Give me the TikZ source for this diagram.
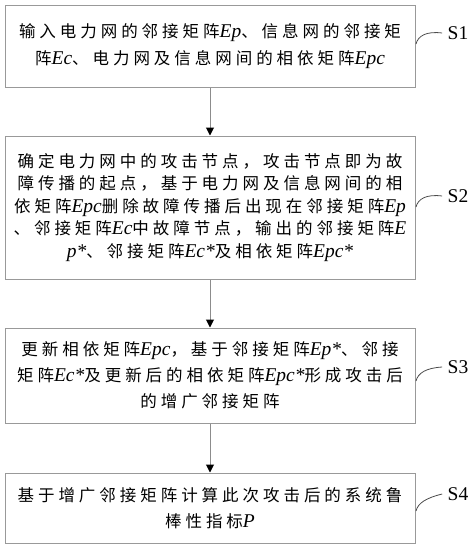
\documentclass[tikz,border=0pt]{standalone}
\usepackage{fontspec}
\setmainfont{Noto Sans CJK SC}[LetterSpace=24]
\newfontfamily\tnr{Liberation Serif}[Scale=1.18]
\newcommand\mx[1]{{\tnr\itshape #1}}
\usetikzlibrary{arrows.meta}
\begin{document}
\begin{tikzpicture}[x=1pt,y=1pt]
	\tikzset{stepbox/.style={draw=black!40, line width=1pt, minimum width=410pt,
				inner sep=0pt, align=center, font=\fontsize{16.5}{27}\selectfont}}
	\tikzset{flow/.style={draw=black!45, line width=1pt,
				-{Triangle[length=8pt, width=8pt, fill=black, color=black]}}}
	\tikzset{tag/.style={font=\fontsize{16.5}{17}\selectfont\tnr}}
	\tikzset{hook/.style={draw=black!70, line width=0.8pt}}

	\useasboundingbox (0,0) rectangle (474,-550);

	\node[stepbox, minimum height=82pt] (s1) at (210,-46)
		{输入电力网的邻接矩阵\mx{Ep}、信息网的邻接矩\\
		 阵\mx{Ec}、电力网及信息网间的相依矩阵\mx{Epc}};
	\node[stepbox, minimum height=143pt, font=\fontsize{16.5}{22.5}\selectfont] (s2) at (210,-207.5)
		{确定电力网中的攻击节点，攻击节点即为故\\
		 障传播的起点，基于电力网及信息网间的相\\
		 依矩阵\mx{Epc}删除故障传播后出现在邻接矩阵\mx{Ep}\\
		 、邻接矩阵\mx{Ec}中故障节点，输出的邻接矩阵\mx{E}\\
		 \mx{p*}、邻接矩阵\mx{Ec*}及相依矩阵\mx{Epc*}};
	\node[stepbox, minimum height=95pt, font=\fontsize{16.5}{26}\selectfont] (s3) at (210,-375.5)
		{更新相依矩阵\mx{Epc}，基于邻接矩阵\mx{Ep*}、邻接\\
		 矩阵\mx{Ec*}及更新后的相依矩阵\mx{Epc*}形成攻击后\\
		 的增广邻接矩阵};
	\node[stepbox, minimum height=70pt, font=\fontsize{16.5}{26}\selectfont] (s4) at (210,-508)
		{基于增广邻接矩阵计算此次攻击后的系统鲁\\
		 棒性指标\mx{P}};

	\draw[flow] (s1) -- (s2);
	\draw[flow] (s2) -- (s3);
	\draw[flow] (s3) -- (s4);

	% step labels
	\node[tag] (t1) at (458,-33) {S1};
	\node[tag] (t2) at (458,-196) {S2};
	\node[tag] (t3) at (458,-367) {S3};
	\node[tag] (t4) at (458,-494) {S4};

	\coordinate (h1) at (416,-44);
	\coordinate (h2) at (416,-207);
	\coordinate (h3) at (416,-381);
	\coordinate (h4) at (416,-511);
	\draw[hook] (h1) .. controls (418,-36) and (426,-31) .. ([xshift=-2pt]t1.west);
	\draw[hook] (h2) .. controls (418,-199) and (426,-194) .. ([xshift=-2pt]t2.west);
	\draw[hook] (h3) .. controls (418,-373) and (426,-368) .. ([xshift=-2pt]t3.west);
	\draw[hook] (h4) .. controls (418,-503) and (426,-498) .. ([xshift=-2pt]t4.west);
\end{tikzpicture}
\end{document}
